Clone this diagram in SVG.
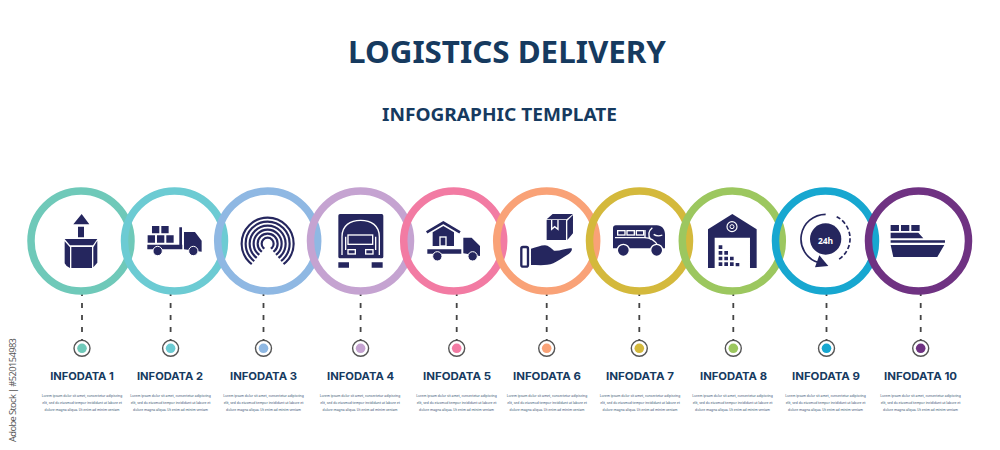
<svg xmlns="http://www.w3.org/2000/svg" width="1000" height="450" viewBox="0 0 1000 450">
<style>
.bg{fill:#fff}
.ring{fill:none;stroke-width:7.5}
.dotr{fill:#fff;stroke:#555;stroke-width:1.4}
.dash{fill:none;stroke:#444;stroke-width:1.8;stroke-dasharray:5 7}
.i{fill:#25265e}
.ws{fill:none;stroke:#fff;stroke-width:4}
.is{fill:none;stroke:#25265e}
.w{fill:#fff}
text{font-family:"Noto Sans","Open Sans",sans-serif;fill:#163a5f;text-anchor:middle}
.title{font-size:29.5px;font-weight:700}
.sub{font-size:17.5px;font-weight:700}
.lab{font-family:Inter,"Noto Sans",sans-serif;font-size:10.8px;font-weight:700}
.lor{font-size:3.35px;fill:#33506f}
.stock{font-family:"Open Sans",sans-serif;font-size:9.4px;fill:#555;text-anchor:start}
</style>
<rect class="bg" width="1000" height="450"/>
<text class="title" x="507" y="62.7" textLength="318" lengthAdjust="spacingAndGlyphs">LOGISTICS DELIVERY</text>
<text class="sub" x="499.5" y="120.7" textLength="235" lengthAdjust="spacingAndGlyphs">INFOGRAPHIC TEMPLATE</text>
<text class="stock" transform="translate(15.5 442) rotate(-90)" textLength="104">Adobe Stock | #520154983</text>

<g id="connectors">
<line class="dash" x1="82" y1="291" x2="82" y2="341"/>
<line class="dash" x1="170.6" y1="291" x2="170.6" y2="341"/>
<line class="dash" x1="263.5" y1="291" x2="263.5" y2="341"/>
<line class="dash" x1="360.6" y1="291" x2="360.6" y2="341"/>
<line class="dash" x1="456.7" y1="291" x2="456.7" y2="341"/>
<line class="dash" x1="546.7" y1="291" x2="546.7" y2="341"/>
<line class="dash" x1="639.3" y1="291" x2="639.3" y2="341"/>
<line class="dash" x1="733.3" y1="291" x2="733.3" y2="341"/>
<line class="dash" x1="826.5" y1="291" x2="826.5" y2="341"/>
<line class="dash" x1="920.7" y1="291" x2="920.7" y2="341"/>
</g>

<g id="node1">
<circle class="ring" cx="81" cy="241" r="50" stroke="#6fc9b9"/>
<g transform="translate(0 170) scale(.3333)">
<path class="i" d="M220 163L245 132L268 163ZM234 170H252V202H234ZM194 207H292L279 226H210ZM214 231H276V294H214ZM194 214L210 232V294L200 288L194 280ZM292 212L280 232V292L292 278Z"/>
</g>
<circle class="dotr" cx="82" cy="348.3" r="8"/><circle cx="82" cy="348.3" r="4.8" fill="#6fc9b9"/>
<text class="lab" x="82" y="379.5" textLength="63.5" lengthAdjust="spacingAndGlyphs">INFODATA 1</text>
<text class="lor" x="82" y="396.8">Lorem ipsum dolor sit amet, consectetur adipiscing</text>
<text class="lor" x="82" y="404">elit, sed do eiusmod tempor incididunt ut labore et</text>
<text class="lor" x="82" y="411">dolore magna aliqua. Ut enim ad minim veniam</text>
</g>

<g id="node2">
<circle class="ring" cx="174.5" cy="241" r="50" stroke="#6ccbd3"/>
<g transform="translate(0 170) scale(.3333)">
<path class="i" d="M456 168h22v22h-22zM484 168h22v22h-22zM443 196h22v22h-22zM471 196h22v22h-22zM499 196h22v22h-22zM442 224h105v14H442zM538 172h8v60h-8zM552 186H585L605 212V245L552 238Z"/>
<circle class="i" cx="473" cy="243" r="14" stroke="#fff" stroke-width="3"/>
<circle class="i" cx="580" cy="243" r="14" stroke="#fff" stroke-width="3"/>
</g>
<circle class="dotr" cx="170.6" cy="348.3" r="8"/><circle cx="170.6" cy="348.3" r="4.8" fill="#6ccbd3"/>
<text class="lab" x="170" y="379.5" textLength="66" lengthAdjust="spacingAndGlyphs">INFODATA 2</text>
<text class="lor" x="170.5" y="396.8">Lorem ipsum dolor sit amet, consectetur adipiscing</text>
<text class="lor" x="170.5" y="404">elit, sed do eiusmod tempor incididunt ut labore et</text>
<text class="lor" x="170.5" y="411">dolore magna aliqua. Ut enim ad minim veniam</text>
</g>

<g id="node3">
<circle class="ring" cx="267.7" cy="241" r="50" stroke="#8fb8e3"/>
<g transform="translate(0 170) scale(.3333)">
<g class="is" stroke-width="6.5"><circle cx="803" cy="221" r="78"/><circle cx="803" cy="221" r="66"/><circle cx="803" cy="221" r="54"/><circle cx="803" cy="221" r="42"/><circle cx="803" cy="221" r="30"/><circle cx="803" cy="221" r="18"/></g>
<path class="w" d="M803 224L736 306H870Z"/>
</g>
<circle class="dotr" cx="263.5" cy="348.3" r="8"/><circle cx="263.5" cy="348.3" r="4.8" fill="#8fb8e3"/>
<text class="lab" x="263.5" y="380" textLength="67" lengthAdjust="spacingAndGlyphs">INFODATA 3</text>
<text class="lor" x="263.5" y="396.8">Lorem ipsum dolor sit amet, consectetur adipiscing</text>
<text class="lor" x="263.5" y="404">elit, sed do eiusmod tempor incididunt ut labore et</text>
<text class="lor" x="263.5" y="411">dolore magna aliqua. Ut enim ad minim veniam</text>
</g>

<g id="node4">
<circle class="ring" cx="360.5" cy="241" r="50" stroke="#c5a3d1"/>
<g transform="translate(330 205) scale(.3333)">
<rect class="i" x="25" y="27" width="135" height="133" rx="5"/>
<path class="i" d="M25 172h32v16H25zM125 172h33v16h-33z"/>
<path class="ws" d="M36 150V95C36 62 60 46 92 46C124 46 148 62 148 95V150M47 135V95M137 135V95"/>
<rect class="ws" x="54" y="90" width="74" height="28"/>
<rect class="ws" x="54" y="134" width="22" height="13"/>
<rect class="ws" x="107" y="134" width="22" height="13"/>
</g>
<circle class="dotr" cx="360.6" cy="348.3" r="8"/><circle cx="360.6" cy="348.3" r="4.8" fill="#c5a3d1"/>
<text class="lab" x="360.5" y="379.5" textLength="67" lengthAdjust="spacingAndGlyphs">INFODATA 4</text>
<text class="lor" x="360" y="396.8">Lorem ipsum dolor sit amet, consectetur adipiscing</text>
<text class="lor" x="360" y="404">elit, sed do eiusmod tempor incididunt ut labore et</text>
<text class="lor" x="360" y="411">dolore magna aliqua. Ut enim ad minim veniam</text>
</g>

<g id="node5">
<circle class="ring" cx="453.7" cy="241" r="50" stroke="#f27ba3"/>
<g transform="translate(330 170) scale(.3333)">
<path class="is" stroke-width="8" d="M290 187L340 158L390 187"/>
<path class="i" d="M340 168L372 187V228H308V187ZM292 238H394V251H292ZM400 203H425L450 228V258L400 250Z"/>
<rect x="330" y="201" width="18" height="27" fill="#25265e" stroke="#fff" stroke-width="4"/>
<circle class="i" cx="322" cy="259" r="14" stroke="#fff" stroke-width="3"/>
<circle class="i" cx="428" cy="259" r="14" stroke="#fff" stroke-width="3"/>
</g>
<circle class="dotr" cx="456.7" cy="348.3" r="8"/><circle cx="456.7" cy="348.3" r="4.8" fill="#f27ba3"/>
<text class="lab" x="457" y="379.5" textLength="68" lengthAdjust="spacingAndGlyphs">INFODATA 5</text>
<text class="lor" x="456.5" y="396.8">Lorem ipsum dolor sit amet, consectetur adipiscing</text>
<text class="lor" x="456.5" y="404">elit, sed do eiusmod tempor incididunt ut labore et</text>
<text class="lor" x="456.5" y="411">dolore magna aliqua. Ut enim ad minim veniam</text>
</g>

<g id="node6">
<circle class="ring" cx="546.7" cy="241" r="50" stroke="#f9a277"/>
<g transform="translate(330 170) scale(.3333)">
<path class="i" d="M650 150H708V210H650ZM650 148L668 132H729L710 148ZM712 152L729 135V190L712 210ZM603 236C620 232 632 226 645 226C655 226 665 236 672 242C690 244 712 232 725 235C728 240 722 248 716 252C700 262 685 272 670 280C650 288 625 285 603 285Z"/>
<path fill="none" stroke="#fff" stroke-width="4" d="M665 150V178L674 170L684 178V150"/>
<rect x="574" y="231" width="20" height="59" rx="5" fill="#fff" stroke="#25265e" stroke-width="7"/>
</g>
<circle class="dotr" cx="546.7" cy="348.3" r="8"/><circle cx="546.7" cy="348.3" r="4.8" fill="#f9a277"/>
<text class="lab" x="547" y="379.5" textLength="68" lengthAdjust="spacingAndGlyphs">INFODATA 6</text>
<text class="lor" x="547" y="396.8">Lorem ipsum dolor sit amet, consectetur adipiscing</text>
<text class="lor" x="547" y="404">elit, sed do eiusmod tempor incididunt ut labore et</text>
<text class="lor" x="547" y="411">dolore magna aliqua. Ut enim ad minim veniam</text>
</g>

<g id="node7">
<circle class="ring" cx="639.5" cy="241" r="50" stroke="#d4b93c"/>
<g transform="translate(605 215) scale(.3333)">
<path class="i" d="M32 31H155C170 31 180 42 180 60V100H24V39C24 34 28 31 32 31Z"/>
<path class="ws" d="M30 68H118C135 68 150 76 158 92M120 45V68M142 38C130 48 128 60 137 74M172 60C162 64 152 62 146 58"/>
<rect class="ws" x="38" y="47" width="22" height="13"/>
<rect class="ws" x="66" y="47" width="22" height="13"/>
<rect class="ws" x="94" y="47" width="22" height="13"/>
<circle class="i" cx="55" cy="106" r="18" stroke="#fff" stroke-width="4"/>
<circle class="i" cx="155" cy="106" r="18" stroke="#fff" stroke-width="4"/>
</g>
<circle class="dotr" cx="639.3" cy="348.3" r="8"/><circle cx="639.3" cy="348.3" r="4.8" fill="#d4b93c"/>
<text class="lab" x="640" y="379.5" textLength="68" lengthAdjust="spacingAndGlyphs">INFODATA 7</text>
<text class="lor" x="640" y="396.8">Lorem ipsum dolor sit amet, consectetur adipiscing</text>
<text class="lor" x="640" y="404">elit, sed do eiusmod tempor incididunt ut labore et</text>
<text class="lor" x="640" y="411">dolore magna aliqua. Ut enim ad minim veniam</text>
</g>

<g id="node8">
<circle class="ring" cx="732.3" cy="241" r="50" stroke="#9cc75f"/>
<g transform="translate(660 170) scale(.3333)">
<path class="i" d="M144 178L217 132L290 178V294H270V203H164V294H144ZM176 226h11v11h-11zM176 243h11v11h-11zM176 260h11v11h-11zM176 277h11v11h-11zM193 243h11v11h-11zM193 260h11v11h-11zM193 277h11v11h-11zM210 260h11v11h-11zM210 277h11v11h-11zM227 279h11v10h-11z"/>
<circle cx="216" cy="170" r="15" fill="none" stroke="#fff" stroke-width="3.5"/>
<circle cx="216" cy="170" r="6" fill="none" stroke="#fff" stroke-width="3"/>
</g>
<circle class="dotr" cx="733.3" cy="348.3" r="8"/><circle cx="733.3" cy="348.3" r="4.8" fill="#9cc75f"/>
<text class="lab" x="733.5" y="379.5" textLength="67" lengthAdjust="spacingAndGlyphs">INFODATA 8</text>
<text class="lor" x="732.5" y="396.8">Lorem ipsum dolor sit amet, consectetur adipiscing</text>
<text class="lor" x="732.5" y="404">elit, sed do eiusmod tempor incididunt ut labore et</text>
<text class="lor" x="732.5" y="411">dolore magna aliqua. Ut enim ad minim veniam</text>
</g>

<g id="node9">
<circle class="ring" cx="825.5" cy="241" r="50" stroke="#17a7d0"/>
<g transform="translate(660 170) scale(.3333)">
<circle class="i" cx="497" cy="207" r="47"/>
<path class="is" stroke-width="5" d="M497 133A74 74 0 0 0 473 277"/>
<path class="is" stroke-width="5" stroke-dasharray="13 7" d="M530 140A74 74 0 0 1 533 270"/>
<path class="i" d="M478 256L505 288L465 292Z"/>
</g>
<text x="825.5" y="243.5" style="font-size:8.5px;font-weight:700;fill:#fff">24h</text>
<circle class="dotr" cx="826.5" cy="348.3" r="8"/><circle cx="826.5" cy="348.3" r="4.8" fill="#17a7d0"/>
<text class="lab" x="826" y="380" textLength="68" lengthAdjust="spacingAndGlyphs">INFODATA 9</text>
<text class="lor" x="825.5" y="396.8">Lorem ipsum dolor sit amet, consectetur adipiscing</text>
<text class="lor" x="825.5" y="404">elit, sed do eiusmod tempor incididunt ut labore et</text>
<text class="lor" x="825.5" y="411">dolore magna aliqua. Ut enim ad minim veniam</text>
</g>

<g id="node10">
<circle class="ring" cx="918.5" cy="241" r="50" stroke="#6f3282"/>
<g transform="translate(660 170) scale(.3333)">
<path class="i" d="M692 165h25v18h-25zM723 165h25v18h-25zM754 165h25v18h-25zM692 188H775L790 205H692ZM692 211H855V218H692ZM692 225H853L832 261H700Z"/>
</g>
<circle class="dotr" cx="920.7" cy="348.3" r="8"/><circle cx="920.7" cy="348.3" r="4.8" fill="#6f3282"/>
<text class="lab" x="920.5" y="379.5" textLength="73" lengthAdjust="spacingAndGlyphs">INFODATA 10</text>
<text class="lor" x="920.5" y="396.8">Lorem ipsum dolor sit amet, consectetur adipiscing</text>
<text class="lor" x="920.5" y="404">elit, sed do eiusmod tempor incididunt ut labore et</text>
<text class="lor" x="920.5" y="411">dolore magna aliqua. Ut enim ad minim veniam</text>
</g>
</svg>
